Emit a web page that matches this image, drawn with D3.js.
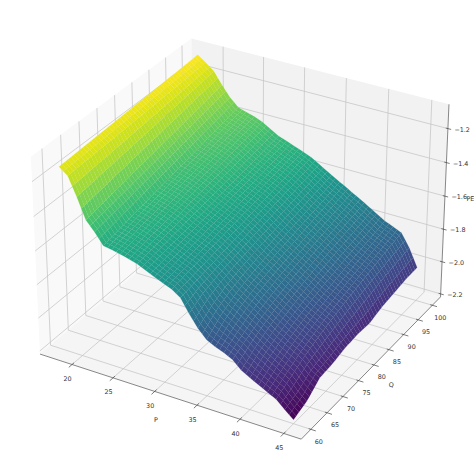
<!DOCTYPE html>
<html><head><meta charset="utf-8">
<script src="https://cdn.jsdelivr.net/npm/d3@7"></script>
<style>html,body{margin:0;padding:0;background:#fff}svg{display:block}text{font-family:"DejaVu Sans",sans-serif;font-size:6.4px;fill:#333}</style>
</head><body><svg id="c" width="474" height="474"></svg>
<script>
const pValues = d3.range(18, 46);
const qValues = [60,64,68,72,76,80,84,88,92,96,100];
const pTicks = [20,25,30,35,40,45];
const qTicks = [60,65,70,75,80,85,90,95,100];
const zTicks = [-2.2,-2.0,-1.8,-1.6,-1.4,-1.2];
const pLimits = [16.03,46.97];
const qLimits = [57.08,102.92];
const zLimits = [-2.219,-1.059];
// one row per P, one column per Q
const zRows = [
[-1.135,-1.131,-1.126,-1.122,-1.117,-1.113,-1.108,-1.104,-1.099,-1.095,-1.090],
[-1.173,-1.168,-1.163,-1.159,-1.154,-1.149,-1.144,-1.139,-1.135,-1.130,-1.125],
[-1.279,-1.268,-1.256,-1.245,-1.233,-1.222,-1.210,-1.199,-1.187,-1.176,-1.164],
[-1.398,-1.382,-1.365,-1.349,-1.332,-1.316,-1.299,-1.283,-1.266,-1.250,-1.233],
[-1.452,-1.436,-1.421,-1.405,-1.389,-1.374,-1.358,-1.342,-1.326,-1.311,-1.295],
[-1.517,-1.500,-1.482,-1.465,-1.447,-1.430,-1.412,-1.395,-1.377,-1.360,-1.342],
[-1.526,-1.509,-1.492,-1.475,-1.458,-1.442,-1.425,-1.408,-1.391,-1.374,-1.357],
[-1.537,-1.521,-1.504,-1.488,-1.471,-1.455,-1.438,-1.422,-1.405,-1.389,-1.372],
[-1.551,-1.535,-1.519,-1.503,-1.487,-1.471,-1.455,-1.439,-1.423,-1.407,-1.391],
[-1.565,-1.551,-1.536,-1.522,-1.507,-1.493,-1.479,-1.464,-1.450,-1.435,-1.421],
[-1.588,-1.574,-1.560,-1.546,-1.532,-1.519,-1.505,-1.491,-1.477,-1.463,-1.449],
[-1.610,-1.596,-1.581,-1.567,-1.553,-1.539,-1.524,-1.510,-1.496,-1.481,-1.467],
[-1.631,-1.617,-1.602,-1.588,-1.573,-1.559,-1.544,-1.530,-1.515,-1.501,-1.486],
[-1.651,-1.636,-1.622,-1.607,-1.592,-1.578,-1.563,-1.548,-1.533,-1.519,-1.504],
[-1.686,-1.670,-1.654,-1.638,-1.622,-1.606,-1.589,-1.573,-1.557,-1.541,-1.525],
[-1.763,-1.715,-1.690,-1.670,-1.652,-1.635,-1.618,-1.602,-1.586,-1.570,-1.554],
[-1.833,-1.775,-1.735,-1.708,-1.688,-1.670,-1.652,-1.634,-1.617,-1.600,-1.583],
[-1.885,-1.820,-1.775,-1.745,-1.722,-1.702,-1.684,-1.666,-1.648,-1.631,-1.613],
[-1.910,-1.850,-1.805,-1.775,-1.752,-1.732,-1.713,-1.694,-1.676,-1.658,-1.640],
[-1.929,-1.880,-1.838,-1.806,-1.782,-1.762,-1.742,-1.723,-1.705,-1.687,-1.669],
[-1.954,-1.910,-1.870,-1.838,-1.812,-1.790,-1.770,-1.751,-1.733,-1.715,-1.697],
[-2.001,-1.945,-1.902,-1.870,-1.843,-1.820,-1.799,-1.780,-1.762,-1.744,-1.726],
[-2.029,-1.975,-1.935,-1.902,-1.875,-1.851,-1.830,-1.810,-1.792,-1.774,-1.756],
[-2.055,-2.005,-1.965,-1.932,-1.905,-1.882,-1.861,-1.841,-1.823,-1.805,-1.787],
[-2.081,-2.035,-1.993,-1.960,-1.932,-1.908,-1.887,-1.866,-1.846,-1.826,-1.807],
[-2.107,-2.065,-2.022,-1.988,-1.958,-1.933,-1.911,-1.890,-1.869,-1.849,-1.829],
[-2.152,-2.120,-2.070,-2.045,-2.020,-1.995,-1.975,-1.955,-1.937,-1.922,-1.908],
[-2.195,-2.164,-2.100,-2.091,-2.071,-2.064,-2.068,-2.044,-2.031,-2.018,-2.014]
];

const svg = d3.select("#c");
const bx = d3.scaleLinear().domain(pLimits).range([-0.5714,0.5714]);
const by = d3.scaleLinear().domain(qLimits).range([-0.5714,0.5714]);
const bz = d3.scaleLinear().domain(zLimits).range([-0.4286,0.4286]);
const U=[0.8660,0.5,0], V=[-0.25,0.4330,0.8660], W=[0.4330,-0.75,0.5], DIST=10;
const sx = d3.scaleLinear().domain([0,1]).range([243.8,243.8+2620]);
const sy = d3.scaleLinear().domain([0,1]).range([229.6,229.6-2625]);
const dot=(a,b)=>a[0]*b[0]+a[1]*b[1]+a[2]*b[2];
function depth(q){return DIST-dot(W,q);}
function proj(q){const d=depth(q);return [sx(dot(U,q)/d),sy(dot(V,q)/d)];}
const P=(p,q,z)=>[bx(p),by(q),bz(z)];
const toPath=pts=>"M"+pts.map(p=>p[0].toFixed(2)+","+p[1].toFixed(2)).join("L");

const [p0,p1]=pLimits,[q0,q1]=qLimits,[z0,z1]=zLimits;
const panes=[
 {c:"#f9f9f9",pts:[P(p0,q0,z0),P(p0,q1,z0),P(p0,q1,z1),P(p0,q0,z1)]},
 {c:"#f2f2f2",pts:[P(p0,q1,z0),P(p1,q1,z0),P(p1,q1,z1),P(p0,q1,z1)]},
 {c:"#f5f5f5",pts:[P(p0,q0,z0),P(p1,q0,z0),P(p1,q1,z0),P(p0,q1,z0)]}
];
svg.append("g").selectAll("path").data(panes).join("path")
 .attr("d",d=>toPath(d.pts.map(proj))+"Z").attr("fill",d=>d.c);
const grid=[];
pTicks.forEach(t=>grid.push([P(t,q0,z0),P(t,q1,z0),P(t,q1,z1)]));
qTicks.forEach(t=>grid.push([P(p1,t,z0),P(p0,t,z0),P(p0,t,z1)]));
zTicks.forEach(t=>grid.push([P(p0,q0,t),P(p0,q1,t),P(p1,q1,t)]));
svg.append("g").selectAll("path").data(grid).join("path")
 .attr("d",d=>toPath(d.map(proj))).attr("fill","none").attr("stroke","#c4c4c4").attr("stroke-width",0.75);
const axes=[[P(p0,q0,z0),P(p1,q0,z0)],[P(p1,q0,z0),P(p1,q1,z0)],[P(p1,q1,z0),P(p1,q1,z1)]];
svg.append("g").selectAll("path").data(axes).join("path")
 .attr("d",d=>toPath(d.map(proj))).attr("fill","none").attr("stroke","#6a6a6a").attr("stroke-width",0.8);
const dQ=q1-q0,dP=p1-p0;
const ticks=[];
pTicks.forEach(t=>ticks.push([P(t,q0-0.02*dQ,z0),P(t,q0+0.012*dQ,z0)]));
qTicks.forEach(t=>ticks.push([P(p1+0.018*dP,t,z0),P(p1-0.008*dP,t,z0)]));
zTicks.forEach(t=>ticks.push([P(p1+0.012*dP,q1,t),P(p1-0.008*dP,q1,t)]));
svg.append("g").selectAll("path").data(ticks).join("path")
 .attr("d",d=>toPath(d.map(proj))).attr("fill","none").attr("stroke","#444").attr("stroke-width",0.7);
// surface: each table cell is shaded with a fine facet mesh between its four corners
const color=d3.scaleSequential(d3.interpolateViridis).domain(d3.extent(zRows.flat()));
const nP=2,nQ=5;
const node=(i,j,a,b)=>{
 const i1=Math.min(i+1,pValues.length-1), j1=Math.min(j+1,qValues.length-1);
 const z=d3.interpolateNumber(d3.interpolateNumber(zRows[i][j],zRows[i][j1])(b),d3.interpolateNumber(zRows[i1][j],zRows[i1][j1])(b))(a);
 const p=d3.interpolateNumber(pValues[i],pValues[i1])(a), q=d3.interpolateNumber(qValues[j],qValues[j1])(b);
 return {xyz:P(p,q,z),z};
};
const cells=[];
for(let i=0;i<pValues.length-1;i++)for(let j=0;j<qValues.length-1;j++)
 for(let a=0;a<nP;a++)for(let b=0;b<nQ;b++){
  const c=[node(i,j,a/nP,b/nQ),node(i,j,(a+1)/nP,b/nQ),node(i,j,(a+1)/nP,(b+1)/nQ),node(i,j,a/nP,(b+1)/nQ)];
  const pts=c.map(n=>n.xyz);
  cells.push({pts,mz:d3.mean(c,n=>n.z),dep:d3.mean(pts,depth)});
 }
cells.sort((a,b)=>b.dep-a.dep);
svg.append("g").selectAll("path").data(cells).join("path")
 .attr("d",d=>toPath(d.pts.map(proj))+"Z")
 .attr("fill",d=>color(d.mz)).attr("stroke",d=>color(d.mz)).attr("stroke-width",0.12);
const fmt=v=>String(v.toFixed(1)).replace("-","\u2212");
const lab=svg.append("g").attr("opacity",0.99);
pTicks.forEach(t=>{const a=proj(P(t,q0,z0));lab.append("text").attr("x",a[0]-4.5).attr("y",a[1]+16.5).attr("text-anchor","middle").text(t);});
qTicks.forEach(t=>{const a=proj(P(p1,t,z0));lab.append("text").attr("x",a[0]+8).attr("y",a[1]+14.5).attr("text-anchor","middle").text(t);});
zTicks.forEach(t=>{const a=proj(P(p1,q1,t));lab.append("text").attr("x",a[0]+6.5).attr("y",a[1]+3).text(fmt(t));});
lab.append("text").attr("x",156).attr("y",422).attr("text-anchor","middle").text("P");
lab.append("text").attr("x",391.3).attr("y",387).attr("text-anchor","middle").text("Q");
lab.append("text").attr("x",466.5).attr("y",201).text("PE");
</script></body></html>
